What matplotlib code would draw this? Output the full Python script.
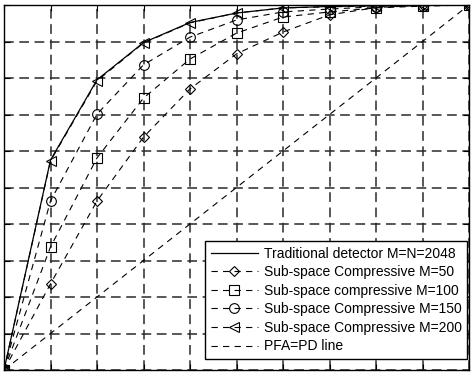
"""
ROC curves: traditional detector vs sub-space compressive detectors.
"""

import matplotlib
matplotlib.use("Agg")
import matplotlib.pyplot as plt

plt.rcParams["font.family"] = ["Liberation Sans", "DejaVu Sans"]
plt.rcParams["lines.scale_dashes"] = False

pfa = [0.0, 0.1, 0.2, 0.3, 0.4, 0.5, 0.6, 0.7, 0.8, 0.9, 1.0]

pd_traditional = [0.0, 0.575, 0.795, 0.897, 0.952, 0.978, 0.992, 0.996, 0.998, 1.0, 1.0]
pd_m50 = [0.0, 0.236, 0.463, 0.638, 0.770, 0.866, 0.926, 0.973, 0.993, 0.999, 1.0]
pd_m100 = [0.0, 0.337, 0.581, 0.745, 0.852, 0.923, 0.967, 0.981, 0.992, 0.997, 1.0]
pd_m150 = [0.0, 0.463, 0.701, 0.836, 0.912, 0.959, 0.981, 0.989, 0.995, 0.998, 1.0]
pd_m200 = [0.0, 0.573, 0.792, 0.896, 0.951, 0.978, 0.992, 0.995, 0.997, 1.0, 1.0]

labels = [
    "Traditional detector M=N=2048",
    "Sub-space Compressive M=50",
    "Sub-space compressive M=100",
    "Sub-space Compressive M=150",
    "Sub-space Compressive M=200",
    "PFA=PD line",
]

fig = plt.figure(figsize=(4.74, 3.76), dpi=100)
ax = fig.add_axes([4 / 474, 6 / 376, 465 / 474, 365 / 376])

dash = (0, (4.5, 3.8))
mk = dict(color="black", markerfacecolor="none", markeredgecolor="black",
          markeredgewidth=0.8, linewidth=0.8)

ax.plot(pfa, pd_traditional, "-", color="black", linewidth=0.9, label=labels[0])
ax.plot(pfa, pd_m50, linestyle=dash, marker="D", markersize=5.2, label=labels[1], **mk)
ax.plot(pfa, pd_m100, linestyle=dash, marker="s", markersize=7, label=labels[2], **mk)
ax.plot(pfa, pd_m150, linestyle=dash, marker="o", markersize=7, label=labels[3], **mk)
ax.plot(pfa, pd_m200, linestyle=dash, marker="<", markersize=7.5, label=labels[4], **mk)
ax.plot([0, 1], [0, 1], linestyle=dash, color="black", linewidth=0.8, label=labels[5])

ax.set_xlim(0, 1)
ax.set_ylim(0, 1)
ax.set_xticks(pfa)
ax.set_yticks(pfa)
# the source figure is cropped right at the axes frame, so no tick labels show
ax.tick_params(direction="in", length=4, width=0.8, top=True, right=True,
               labelbottom=False, labelleft=False)
ax.grid(True, color="#2a2a2a", linestyle=(0, (7, 4)), linewidth=1.1)
for s in ax.spines.values():
    s.set_linewidth(1.0)

leg = ax.legend(loc="lower right", bbox_to_anchor=(0.996, 0.03), borderaxespad=0,
                fancybox=False, framealpha=1, edgecolor="black", fontsize=10,
                handlelength=3.4, handletextpad=0.4, labelspacing=0.33,
                borderpad=0.4)
leg.get_frame().set_linewidth(1.0)

fig.savefig("out.png", dpi=100)
